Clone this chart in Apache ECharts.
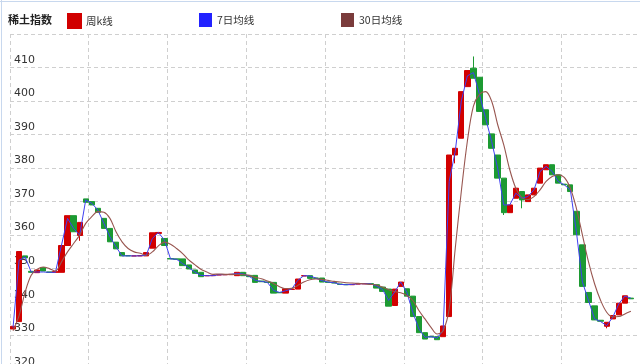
<!DOCTYPE html>
<html>
<head>
<meta charset="utf-8">
<script src="https://cdn.jsdelivr.net/npm/echarts@6.0.0/dist/echarts.min.js"></script>
<style>
html,body{margin:0;padding:0;background:#fff;overflow:hidden;width:640px;height:364px;}
#c{width:640px;height:380px;}
</style>
</head>
<body>
<div id="c"></div>
<script>
// weekly categories (x labels are cropped out of the picture)
const weeks = Array.from({length: 104}, (_, i) => 'W' + (i + 1));
const yTicks = [320, 330, 340, 350, 360, 370, 380, 390, 400, 410, 420];

const opens = [
332.0, 334.2, 353.8, 349.2, 348.8, 350.3, 349.0, 348.9, 348.9, 356.9,
365.8, 359.9, 370.8, 370.0, 368.0, 365.0, 362.0, 357.9, 354.8, 353.9,
353.8, 353.8, 353.8, 356.1, 360.5, 359.0, 353.0, 352.9, 352.9, 351.1,
349.6, 348.9, 347.9, 347.9, 348.1, 348.2, 348.2, 347.9, 348.9, 348.0,
348.0, 346.3, 346.0, 345.9, 342.9, 342.7, 343.8, 343.9, 347.8, 347.9,
347.2, 347.2, 346.0, 345.9, 345.4, 345.3, 345.2, 345.4, 345.5, 345.5,
345.2, 344.5, 343.9, 339.0, 344.7, 344.0, 341.8, 335.7, 330.9, 329.8,
329.7, 329.7, 335.7, 383.9, 388.9, 404.3, 409.8, 407.1, 397.4, 390.2,
383.9, 377.0, 366.7, 371.0, 373.0, 370.0, 372.0, 375.5, 379.5, 381.0,
378.0, 375.2, 375.0, 367.1, 357.1, 342.9, 338.9, 334.6, 332.8, 335.0,
336.2, 339.7, 341.2
];
const closes = [
332.8, 355.1, 353.2, 348.9, 349.6, 349.3, 348.9, 349.1, 356.9, 365.8,
361.0, 363.8, 369.8, 369.0, 366.8, 362.0, 358.0, 355.9, 353.8, 353.8,
353.8, 353.9, 354.8, 360.7, 360.8, 356.9, 352.9, 352.8, 350.9, 349.9,
348.6, 347.6, 347.9, 348.0, 348.2, 348.2, 348.3, 348.9, 347.9, 347.6,
345.9, 346.1, 345.9, 342.7, 342.8, 344.0, 343.9, 346.9, 347.9, 347.1,
347.1, 346.0, 345.9, 345.7, 345.3, 345.2, 345.3, 345.5, 345.5, 345.4,
344.2, 343.2, 338.8, 343.9, 346.0, 341.8, 335.7, 330.9, 329.0, 329.6,
328.8, 332.9, 383.9, 385.9, 402.8, 409.1, 406.8, 396.9, 392.9, 385.9,
377.0, 366.7, 369.0, 374.0, 370.5, 372.0, 374.0, 380.0, 381.0, 378.0,
375.5, 375.0, 373.0, 360.1, 344.7, 339.9, 334.7, 334.3, 334.0, 336.0,
339.7, 341.9, 341.0
];
// visible wicks: [index, low, high]
const wicks = [
[11, 358.3, null], [73, 381.4, null], [76, null, 413.3],
[81, 366.0, null], [84, 368.0, null], [98, 332.2, null]
];
const ma7 = [
332.4, 352.5, 353.5, 349.0, 349.0, 349.0, 348.9, 348.9, 357.0, 365.0,
362.0, 360.0, 370.5, 369.5, 367.5, 363.5, 359.5, 356.5, 353.8, 353.8,
353.8, 353.8, 354.0, 359.0, 360.8, 358.5, 352.9, 352.8, 351.5, 350.3,
349.0, 348.0, 347.9, 347.9, 348.2, 348.2, 348.3, 348.6, 348.4, 347.7,
346.5, 346.2, 345.9, 343.5, 342.9, 343.4, 343.9, 346.5, 347.9, 347.8,
347.2, 346.4, 346.0, 345.8, 345.3, 345.2, 345.3, 345.5, 345.5, 345.5,
344.8, 343.8, 340.5, 343.0, 346.0, 343.0, 337.0, 332.0, 329.5, 329.7,
329.3, 331.5, 376.0, 385.0, 400.0, 407.5, 408.5, 402.0, 395.0, 388.0,
380.0, 369.0, 369.0, 372.5, 371.0, 371.5, 373.5, 379.0, 380.5, 379.0,
376.0, 375.0, 373.5, 361.0, 346.0, 340.5, 335.0, 334.2, 333.0, 335.5,
339.5, 341.8, 341.2
];
const ma30 = [
331.5, 336.0, 343.0, 348.0, 349.8, 350.5, 350.0, 349.3, 352.0, 355.0,
357.5, 360.0, 363.5, 365.5, 367.0, 366.8, 365.0, 361.0, 358.0, 356.0,
355.0, 354.6, 354.0, 355.0, 356.8, 357.9, 357.3, 356.0, 354.5, 352.6,
351.2, 349.8, 349.0, 348.3, 348.4, 348.3, 348.3, 348.3, 348.2, 348.0,
347.4, 347.0, 346.3, 345.6, 344.6, 344.0, 344.1, 345.0, 346.0, 346.7,
346.9, 346.8, 346.5, 346.2, 346.0, 345.8, 345.7, 345.6, 345.5, 345.3,
345.1, 344.5, 343.7, 343.2, 342.8, 342.0, 340.5, 337.5, 335.0, 332.5,
330.5, 331.5, 338.0, 356.0, 373.0, 388.0, 398.5, 402.0, 402.8, 400.0,
393.0, 387.0, 379.5, 374.0, 371.2, 370.6, 371.5, 373.5, 376.0, 377.5,
378.0, 377.2, 374.0, 368.0, 360.0, 352.0, 345.5, 340.5, 337.0, 335.6,
335.7, 336.5, 337.3
];

const RED = '#d20000', GREEN = '#1c9a32', BLUE = '#3f3ff2', BROWN = '#985650';
const LEG_RED = '#d00000', LEG_BLUE = '#2222ff', LEG_BROWN = '#7a3b3b';

const kData = opens.map((o, i) => {
  const c = closes[i];
  let lo = Math.min(o, c), hi = Math.max(o, c);
  wicks.forEach(w => { if (w[0] === i) { if (w[1] != null) lo = w[1]; if (w[2] != null) hi = w[2]; } });
  return [o, c, lo, hi];
});

const chart = echarts.init(document.getElementById('c'), null, {renderer: 'canvas'});
const gridLine = {show: true, lineStyle: {color: '#cfcfcf', type: [4, 3], width: 1}};
const legendBase = {
  top: 13, itemWidth: 13, itemHeight: 14, padding: 0, itemGap: 5,
  textStyle: {fontSize: 10.5, color: '#333', fontFamily: 'Noto Sans CJK SC'}
};
chart.setOption({
  animation: false,
  backgroundColor: '#fff',
  title: {
    text: '稀土指数', left: 8, top: 14, padding: 0,
    textStyle: {fontSize: 11, fontWeight: 'bold', color: '#222', fontFamily: 'Noto Sans CJK SC'}
  },
  legend: [
    Object.assign({}, legendBase, {left: 67, data: [{name: '周k线', icon: 'rect', itemStyle: {color: LEG_RED}}]}),
    Object.assign({}, legendBase, {left: 199, data: [{name: '7日均线', icon: 'rect', itemStyle: {color: LEG_BLUE}}]}),
    Object.assign({}, legendBase, {left: 341, data: [{name: '30日均线', icon: 'rect', itemStyle: {color: LEG_BROWN}}]})
  ],
  graphic: [
    {type: 'line', shape: {x1: 1.5, y1: 0, x2: 1.5, y2: 380}, style: {stroke: '#c8d8ee', lineWidth: 1}, silent: true},
    {type: 'line', shape: {x1: 0, y1: 1.5, x2: 640, y2: 1.5}, style: {stroke: '#c8d8ee', lineWidth: 1}, silent: true}
  ],
  grid: {left: 10, top: 34, right: 0, bottom: 10.8, containLabel: false},
  xAxis: {
    type: 'category', data: weeks, boundaryGap: true,
    axisLine: {show: false}, axisTick: {show: false}, axisLabel: {show: false},
    splitLine: Object.assign({interval: 12}, gridLine)
  },
  yAxis: {
    type: 'value', min: yTicks[0], max: yTicks[yTicks.length - 1], interval: 10,
    axisLine: {show: false}, axisTick: {show: false},
    axisLabel: {
      inside: true, margin: 4, showMaxLabel: false, verticalAlign: 'bottom',
      padding: [0, 0, 2, 0],
      fontSize: 11, color: '#333', fontFamily: 'DejaVu Sans'
    },
    splitLine: gridLine
  },
  series: [
    {
      name: '周k线', type: 'candlestick', data: kData, barWidth: 5.8, z: 2,
      itemStyle: {color: RED, color0: GREEN, borderColor: RED, borderColor0: GREEN, borderWidth: 1}
    },
    {
      name: '7日均线', type: 'line', data: ma7, symbol: 'none', z: 3,
      itemStyle: {color: LEG_BLUE},
      lineStyle: {color: BLUE, width: 1}
    },
    {
      name: '30日均线', type: 'line', data: ma30, symbol: 'none', smooth: 0.35, z: 3,
      itemStyle: {color: LEG_BROWN},
      lineStyle: {color: BROWN, width: 1.1}
    }
  ]
});
</script>
</body>
</html>
